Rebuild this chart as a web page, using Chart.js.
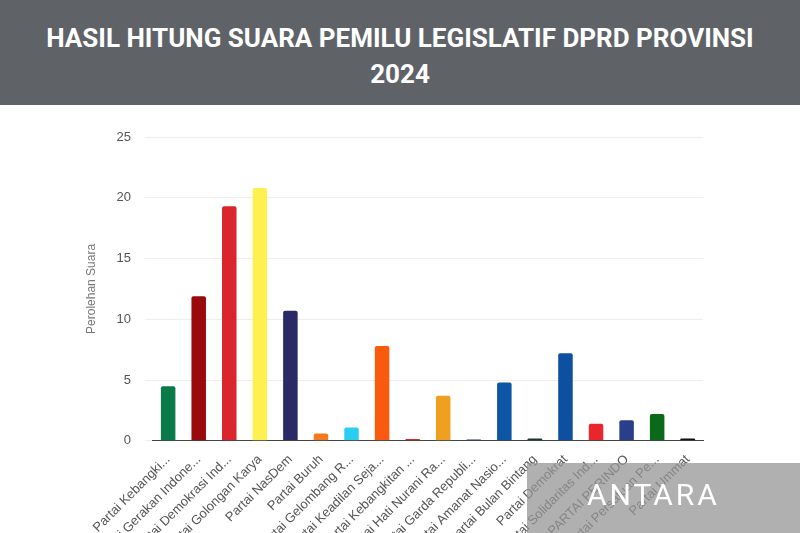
<!DOCTYPE html>
<html><head><meta charset="utf-8">
<script src="https://cdn.jsdelivr.net/npm/chart.js@4/dist/chart.umd.min.js"></script>
<style>
body{margin:0;width:800px;height:533px;overflow:hidden;background:#fff;font-family:Roboto,"Open Sans",sans-serif;position:relative}
#hdr{position:absolute;left:0;top:0;width:800px;height:105px;background:#5f6368;color:#fff;font-weight:bold;font-size:26px;text-align:center;line-height:36px;padding-top:20px;box-sizing:border-box}
#wrap{position:absolute;left:0;top:105px;width:800px;height:461px}
#wm{position:absolute;left:527px;top:463px;width:273px;height:70px;background:rgba(150,150,150,0.75);color:#fff;font-size:30px;letter-spacing:3px;line-height:64px;padding-left:60px;box-sizing:border-box}
</style></head><body>
<div id="hdr">HASIL HITUNG SUARA PEMILU LEGISLATIF DPRD PROVINSI<br>2024</div>
<div id="wrap"><canvas id="c"></canvas></div>
<div id="wm">ANTARA</div>
<script>
const categories=["Partai Kebangki...","Partai Gerakan Indone...","Partai Demokrasi Ind...","Partai Golongan Karya","Partai NasDem","Partai Buruh","Partai Gelombang R...","Partai Keadilan Seja...","Partai Kebangkitan ...","Partai Hati Nurani Ra...","Partai Garda Republi...","Partai Amanat Nasio...","Partai Bulan Bintang","Partai Demokrat","Partai Solidaritas Ind...","PARTAI PERINDO","Partai Persatuan Pe...","Partai Ummat"];
const values=[4.5,11.9,19.3,20.8,10.7,0.6,1.1,7.8,0.15,3.7,0.1,4.8,0.2,7.2,1.4,1.7,2.2,0.2];
const colors=["#0b7a4b","#9b0a0a","#d8262c","#fdf050","#2a2a66","#f47a20","#2ccdf3","#fa5a0e","#d8262c","#f0a020","#2a3a5a","#0d55a5","#1a3a2a","#0d50a0","#e8262c","#2a3f8a","#0a6a1a","#111111"];
const yTicks=[0,5,10,15,20,25];
new Chart(document.getElementById('c'),{type:'bar',
data:{labels:categories,datasets:[{data:values,backgroundColor:colors,barPercentage:0.5,categoryPercentage:0.95,borderRadius:2}]},
options:{responsive:true,maintainAspectRatio:false,animation:false,
layout:{padding:{left:80,right:97,top:32}},
plugins:{legend:{display:false},tooltip:{enabled:false}},
scales:{
x:{grid:{display:false},border:{color:'#444'},ticks:{color:'#555',font:{size:13},maxRotation:45,minRotation:45,autoSkip:false}},
y:{min:0,max:25,afterBuildTicks:a=>{a.ticks=yTicks.map(v=>({value:v}))},grid:{color:'#eee'},border:{display:false},ticks:{color:'#555',font:{size:13},padding:14},
title:{display:true,text:'Perolehan Suara',color:'#777',font:{size:12}}}
}}});
</script></body></html>
